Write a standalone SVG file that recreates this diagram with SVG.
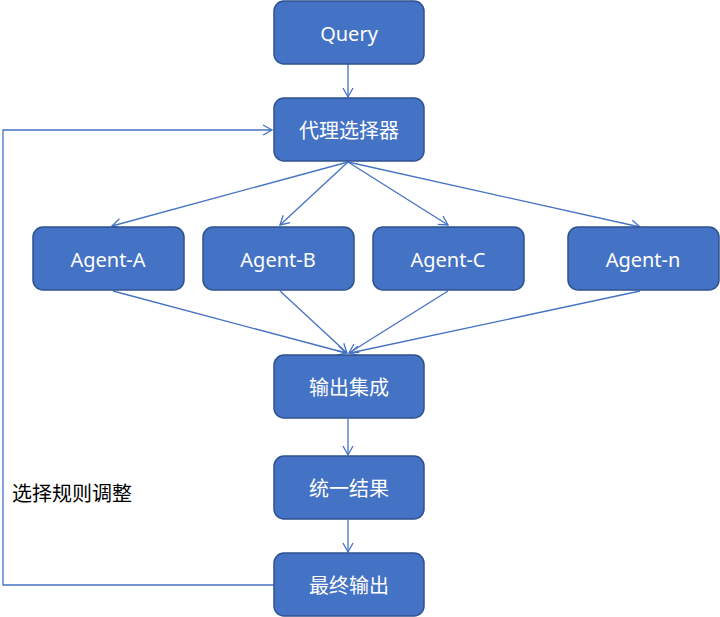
<svg xmlns="http://www.w3.org/2000/svg" width="720" height="617" viewBox="0 0 720 617">
<style>
.n{fill:#4472C4;stroke:#2F528F;stroke-width:1.5}
.t{fill:#fff;font-family:"Noto Sans","Noto Sans CJK SC",sans-serif;font-size:20px;text-anchor:middle;dominant-baseline:central}
.c{fill:none;stroke:#4472C4;stroke-width:1.3;marker-end:url(#a)}
</style>
<defs><marker id="a" markerWidth="12" markerHeight="12" refX="10" refY="6" orient="auto" markerUnits="userSpaceOnUse"><path d="M1,1 L10,6 L1,11" fill="none" stroke="#4472C4" stroke-width="1.3"/></marker></defs>
<rect width="720" height="617" fill="#fff"/>
<g id="connectors">
<path class="c" d="M348,64 V97"/>
<path class="c" d="M348,162 L112,226"/>
<path class="c" d="M348,162 L280,225"/>
<path class="c" d="M348,162 L448,225"/>
<path class="c" d="M348,162 L640,227"/>
<path class="c" d="M113,291 L346,353"/>
<path class="c" d="M280,291 L347,353"/>
<path class="c" d="M448,291 L349,353"/>
<path class="c" d="M640,291 L350,353"/>
<path class="c" d="M348,419 V455"/>
<path class="c" d="M348,520 V552"/>
<path class="c" d="M274,585 H3 V130 H272"/>
</g>
<g id="query"><rect class="n" x="274" y="1" width="150" height="63" rx="10"/><text class="t" x="349" y="33">Query</text></g>
<g id="selector"><rect class="n" x="274" y="98" width="150" height="63" rx="10"/><text class="t" x="349" y="130">代理选择器</text></g>
<g id="agentA"><rect class="n" x="33" y="227" width="151" height="63" rx="10"/><text class="t" x="108" y="259">Agent-A</text></g>
<g id="agentB"><rect class="n" x="203" y="227" width="151" height="63" rx="10"/><text class="t" x="278" y="259">Agent-B</text></g>
<g id="agentC"><rect class="n" x="373" y="227" width="151" height="63" rx="10"/><text class="t" x="448" y="259">Agent-C</text></g>
<g id="agentN"><rect class="n" x="568" y="227" width="151" height="63" rx="10"/><text class="t" x="643" y="259">Agent-n</text></g>
<g id="integrate"><rect class="n" x="274" y="355" width="150" height="63" rx="10"/><text class="t" x="349" y="387">输出集成</text></g>
<g id="unify"><rect class="n" x="274" y="456" width="150" height="63" rx="10"/><text class="t" x="349" y="488">统一结果</text></g>
<g id="final"><rect class="n" x="274" y="553" width="150" height="63" rx="10"/><text class="t" x="349" y="585">最终输出</text></g>
<text x="12" y="492" font-family="Noto Sans CJK SC,sans-serif" font-size="20" fill="#000" dominant-baseline="central">选择规则调整</text>
</svg>
